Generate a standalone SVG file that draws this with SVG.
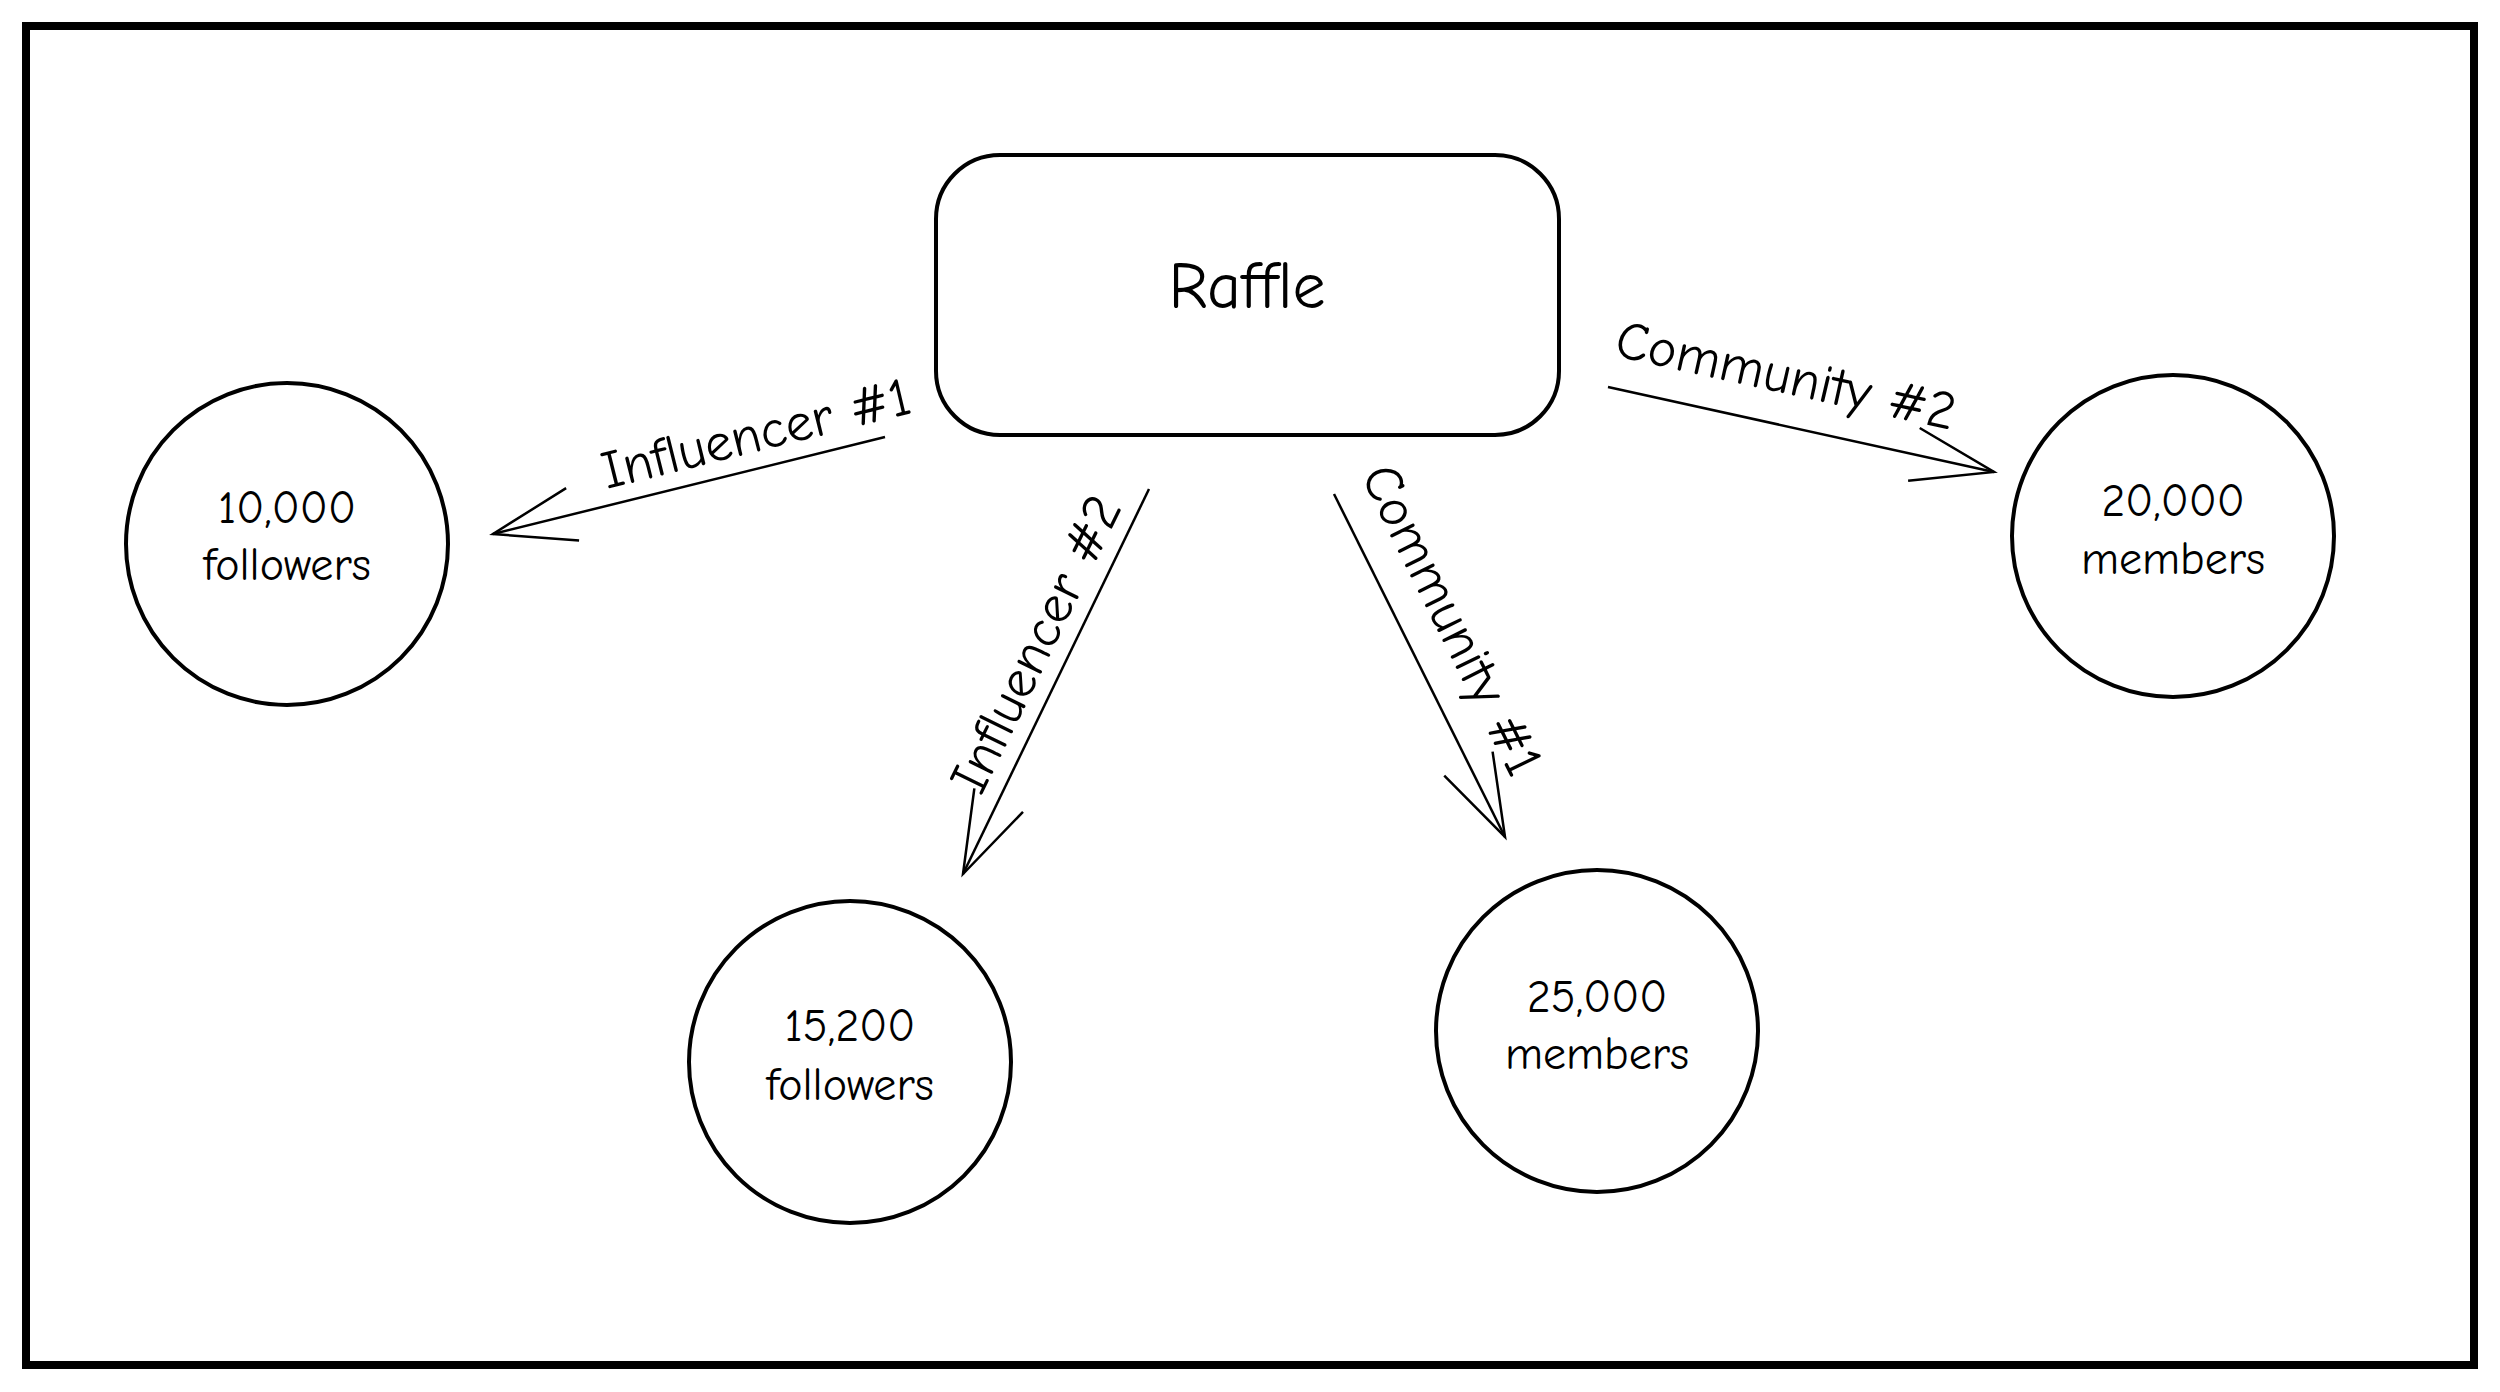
<svg xmlns="http://www.w3.org/2000/svg" width="2500" height="1392" viewBox="0 0 2500 1392">
<defs>
<marker id="ah" viewBox="-90 -30 100 60" refX="0" refY="0" markerWidth="100" markerHeight="60" markerUnits="userSpaceOnUse" orient="auto">
<path d="M-82,-27 L0,0 L-82,27" fill="none" stroke="#000" stroke-width="2.5"/>
</marker>
<style>
.s{fill:#fff;stroke:#000;stroke-width:4}
.t{font-family:"Comic Neue","Liberation Sans",sans-serif;fill:#000;text-anchor:middle;dominant-baseline:middle}
.n{font-size:46px}
.l{font-size:54px}
.c{stroke:#000;stroke-width:2.5;fill:none;marker-end:url(#ah)}
</style>
</defs>
<rect x="0" y="0" width="2500" height="1392" fill="#fff"/>
<rect x="26" y="26" width="2448" height="1339" fill="none" stroke="#000" stroke-width="8"/>
<g id="raffle"><rect class="s" x="936" y="155" width="623" height="280" rx="64"/><text class="t" x="1247" y="292" font-size="66">Raffle</text></g>
<g id="n1"><circle class="s" cx="287" cy="544" r="161"/><text class="t n" x="287" y="512">10,000</text><text class="t n" x="287" y="569">followers</text></g>
<g id="n2"><circle class="s" cx="850" cy="1062" r="161"/><text class="t n" x="850" y="1030">15,200</text><text class="t n" x="850" y="1089">followers</text></g>
<g id="n3"><circle class="s" cx="1597" cy="1031" r="161"/><text class="t n" x="1597" y="1001">25,000</text><text class="t n" x="1597" y="1058">members</text></g>
<g id="n4"><circle class="s" cx="2173" cy="536" r="161"/><text class="t n" x="2173" y="505">20,000</text><text class="t n" x="2173" y="563">members</text></g>
<g id="connectors">
<line class="c" x1="885" y1="437" x2="493" y2="534"/>
<line class="c" x1="1149" y1="489" x2="963" y2="874"/>
<line class="c" x1="1334" y1="494" x2="1505" y2="837"/>
<line class="c" x1="1608" y1="387" x2="1994" y2="472"/>
<text class="t l" transform="translate(757,438) rotate(-14)">Influencer #1</text>
<text class="t l" transform="translate(1040,646) rotate(-64)">Influencer #2</text>
<text class="t l" transform="translate(1448,622) rotate(63.5)">Community #1</text>
<text class="t l" transform="translate(1785,380) rotate(12.4)">Community #2</text>
</g>
</svg>
